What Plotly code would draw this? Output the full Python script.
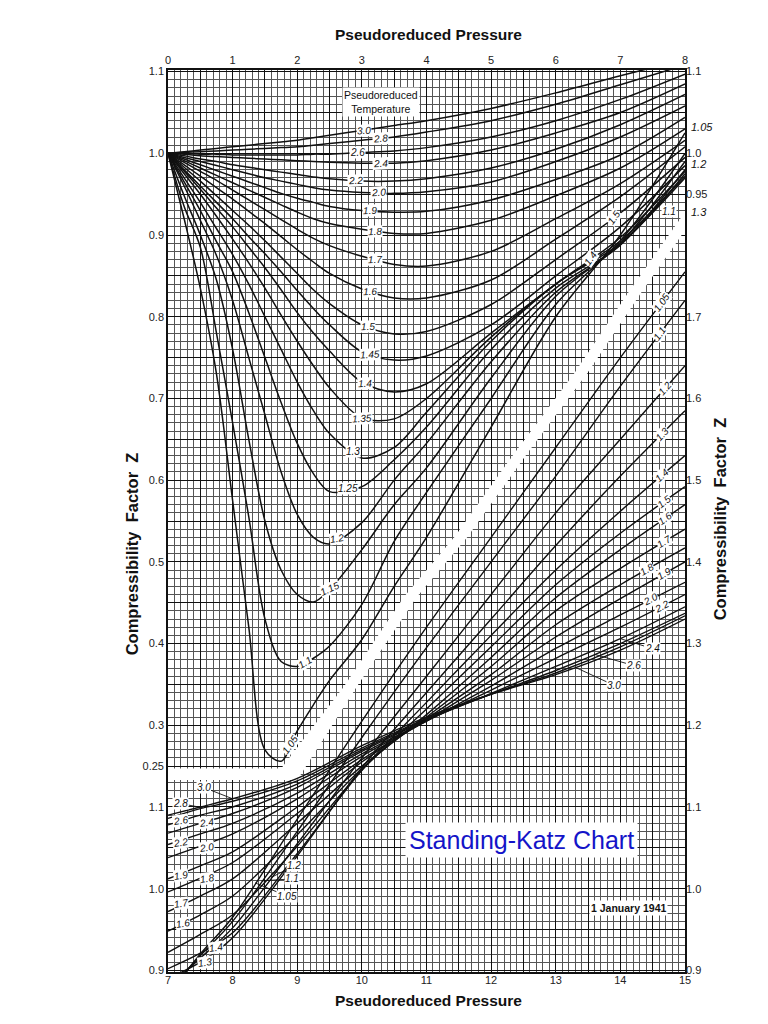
import numpy as np
import plotly.graph_objects as go

# Upper chart: pseudoreduced pressure 0-8, Z on the left scale 0.25-1.1
pr_upper = [0, 0.25, 0.5, 0.75, 1.0, 1.25, 1.5, 1.75, 2.0, 2.25, 2.5, 3.0, 3.5, 4.0, 5.0, 6.0, 7.0, 8.0]

z_u_300 = [1.0, 1.002, 1.004, 1.006, 1.008, 1.010, 1.012, 1.014, 1.016, 1.019, 1.022, 1.028, 1.034, 1.040, 1.055, 1.074, 1.095, 1.115]
z_u_280 = [1.0, 1.001, 1.002, 1.003, 1.004, 1.005, 1.006, 1.007, 1.008, 1.010, 1.012, 1.016, 1.020, 1.026, 1.040, 1.060, 1.084, 1.108]
z_u_260 = [1.0, 1.0, 0.999, 0.999, 0.998, 0.998, 0.998, 0.998, 0.998, 0.999, 0.999, 1.001, 1.003, 1.007, 1.020, 1.040, 1.066, 1.097]
z_u_240 = [1.0, 0.999, 0.997, 0.996, 0.995, 0.994, 0.993, 0.992, 0.991, 0.990, 0.989, 0.988, 0.988, 0.991, 1.004, 1.025, 1.050, 1.085]
z_u_220 = [1.0, 0.997, 0.993, 0.990, 0.986, 0.983, 0.980, 0.977, 0.974, 0.971, 0.969, 0.966, 0.966, 0.969, 0.982, 1.005, 1.035, 1.072]
z_u_200 = [1.0, 0.995, 0.990, 0.985, 0.980, 0.975, 0.970, 0.966, 0.962, 0.958, 0.955, 0.952, 0.951, 0.953, 0.965, 0.990, 1.020, 1.058]
z_u_190 = [1.0, 0.993, 0.986, 0.979, 0.972, 0.965, 0.958, 0.951, 0.945, 0.940, 0.935, 0.930, 0.928, 0.929, 0.943, 0.968, 0.998, 1.044]
z_u_180 = [1.0, 0.991, 0.982, 0.973, 0.964, 0.955, 0.946, 0.937, 0.928, 0.920, 0.914, 0.907, 0.902, 0.902, 0.918, 0.948, 0.982, 1.030]
z_u_170 = [1.0, 0.989, 0.978, 0.967, 0.955, 0.943, 0.931, 0.919, 0.907, 0.896, 0.887, 0.874, 0.864, 0.862, 0.880, 0.920, 0.963, 1.016]
z_u_160 = [1.0, 0.986, 0.972, 0.958, 0.944, 0.929, 0.914, 0.898, 0.882, 0.867, 0.853, 0.834, 0.823, 0.823, 0.845, 0.895, 0.947, 1.008]
z_u_150 = [1.0, 0.983, 0.966, 0.948, 0.930, 0.912, 0.893, 0.873, 0.853, 0.833, 0.816, 0.790, 0.779, 0.782, 0.815, 0.870, 0.927, 0.995]
z_u_145 = [1.0, 0.980, 0.960, 0.940, 0.920, 0.898, 0.877, 0.855, 0.832, 0.810, 0.790, 0.757, 0.747, 0.752, 0.790, 0.850, 0.910, 0.985]
z_u_140 = [1.0, 0.978, 0.956, 0.933, 0.910, 0.885, 0.860, 0.833, 0.805, 0.780, 0.758, 0.720, 0.708, 0.718, 0.780, 0.840, 0.897, 0.978]
z_u_135 = [1.0, 0.975, 0.950, 0.923, 0.895, 0.866, 0.835, 0.802, 0.770, 0.740, 0.713, 0.676, 0.675, 0.700, 0.775, 0.840, 0.893, 0.972]
z_u_130 = [1.0, 0.970, 0.940, 0.908, 0.876, 0.840, 0.800, 0.760, 0.720, 0.685, 0.657, 0.627, 0.640, 0.683, 0.770, 0.840, 0.890, 0.970]
z_u_125 = [1.0, 0.965, 0.930, 0.892, 0.855, 0.805, 0.750, 0.695, 0.645, 0.608, 0.586, 0.592, 0.625, 0.665, 0.760, 0.835, 0.888, 0.975]
z_u_120 = [1.0, 0.960, 0.918, 0.875, 0.820, 0.750, 0.680, 0.610, 0.558, 0.530, 0.522, 0.548, 0.600, 0.645, 0.745, 0.830, 0.888, 0.980]
z_u_115 = [1.0, 0.948, 0.900, 0.845, 0.760, 0.650, 0.550, 0.490, 0.460, 0.451, 0.466, 0.515, 0.570, 0.615, 0.725, 0.825, 0.890, 0.990]
z_u_110 = [1.0, 0.935, 0.885, 0.780, 0.670, 0.555, 0.430, 0.378, 0.372, 0.382, 0.397, 0.448, 0.525, 0.585, 0.700, 0.815, 0.893, 1.000]
z_u_105 = [1.0, 0.920, 0.835, 0.730, 0.575, 0.420, 0.270, 0.256, 0.293, 0.325, 0.355, 0.405, 0.470, 0.530, 0.665, 0.800, 0.900, 1.025]

# where each upper curve carries its Tpr label (pressure, text angle)
upper_label_pr = [3.04, 3.29, 2.93, 3.29, 2.9, 3.25, 3.13, 3.21, 3.21, 3.13, 3.1, 3.13, 3.05, 3.0, 2.87, 2.79, 2.62, 2.51, 2.12, 1.89]
upper_label_angle = [-4, -4, 0, -3, -3, -3, -2, -2, -2, -2, -2, -3, -3, -3, 0, 0, -8, -25, -30, -55]

# Lower chart: pseudoreduced pressure 7-15, Z on the right scale 0.9-1.7
pr_lower = [7, 7.5, 8, 9, 10, 11, 12, 13, 14, 15]

z_l_300 = [1.090, 1.100, 1.110, 1.135, 1.175, 1.210, 1.238, 1.262, 1.292, 1.330]
z_l_280 = [1.086, 1.098, 1.107, 1.132, 1.172, 1.208, 1.238, 1.264, 1.296, 1.334]
z_l_260 = [1.078, 1.090, 1.100, 1.128, 1.170, 1.207, 1.238, 1.267, 1.300, 1.337]
z_l_240 = [1.068, 1.080, 1.092, 1.124, 1.168, 1.206, 1.239, 1.272, 1.306, 1.345]
z_l_220 = [1.054, 1.067, 1.080, 1.117, 1.165, 1.205, 1.243, 1.282, 1.320, 1.360]
z_l_200 = [1.038, 1.052, 1.067, 1.110, 1.162, 1.205, 1.248, 1.294, 1.335, 1.375]
z_l_190 = [1.012, 1.028, 1.045, 1.100, 1.158, 1.206, 1.255, 1.308, 1.355, 1.400]
z_l_180 = [0.996, 1.013, 1.032, 1.092, 1.155, 1.208, 1.262, 1.323, 1.372, 1.417]
z_l_170 = [0.972, 0.991, 1.012, 1.080, 1.150, 1.210, 1.272, 1.340, 1.392, 1.440]
z_l_160 = [0.948, 0.968, 0.991, 1.066, 1.147, 1.213, 1.283, 1.356, 1.415, 1.470]
z_l_150 = [0.922, 0.944, 0.968, 1.052, 1.145, 1.220, 1.296, 1.372, 1.435, 1.492]
z_l_140 = [0.902, 0.921, 0.946, 1.043, 1.145, 1.228, 1.310, 1.390, 1.462, 1.530]
z_l_130 = [0.890, 0.910, 0.940, 1.040, 1.148, 1.240, 1.330, 1.420, 1.505, 1.585]
z_l_120 = [0.880, 0.915, 0.952, 1.055, 1.160, 1.260, 1.360, 1.460, 1.550, 1.640]
z_l_110 = [0.875, 0.918, 0.960, 1.070, 1.185, 1.295, 1.400, 1.505, 1.615, 1.720]
z_l_105 = [0.870, 0.920, 0.965, 1.085, 1.205, 1.320, 1.430, 1.540, 1.650, 1.755]

# white separator strip (upper scale coordinates)
band_pr = [0, 1.75, 2.72, 3.65, 4.43, 5.36, 6.29, 7.11, 7.9, 8.1, 8.1, 7.31, 6.49, 5.56, 4.63, 3.85, 2.92, 2.0, 0]
band_z = [0.247, 0.247, 0.347, 0.457, 0.530, 0.633, 0.731, 0.828, 0.917, 0.940, 0.917, 0.828, 0.731, 0.633, 0.530, 0.457, 0.347, 0.233, 0.233]

# axis tick labels
top_tick_vals = [0, 0.5, 1, 1.5, 2, 2.5, 3, 3.5, 4, 4.5, 5, 5.5, 6, 6.5, 7, 7.5, 8]
top_tick_text = ["0", "", "1", "", "2", "", "3", "", "4", "", "5", "", "6", "", "7", "", "8"]
bottom_tick_vals = [7, 8, 9, 10, 11, 12, 13, 14, 15]
left_tick_vals = [0.0, 0.05, 0.1, 0.15, 0.2, 0.25, 0.3, 0.35, 0.4, 0.45, 0.5, 0.55, 0.6,
                  0.65, 0.7, 0.75, 0.8, 0.85, 0.9, 0.95, 1.0, 1.05, 1.1]
left_tick_text = ["0.9", "", "1.0", "", "1.1", "0.25", "0.3", "", "0.4", "", "0.5", "", "0.6",
                  "", "0.7", "", "0.8", "", "0.9", "", "1.0", "", "1.1"]
right_tick_vals = [0.9, 1.0, 1.1, 1.2, 1.3, 1.4, 1.5, 1.6, 1.7, 1.85, 1.9, 2.0]
right_tick_text = ["0.9", "1.0", "1.1", "1.2", "1.3", "1.4", "1.5", "1.6", "1.7", "0.95", "1.0", "1.1"]

upper_curves = [
    ("3.0", z_u_300), ("2.8", z_u_280), ("2.6", z_u_260), ("2.4", z_u_240), ("2.2", z_u_220),
    ("2.0", z_u_200), ("1.9", z_u_190), ("1.8", z_u_180), ("1.7", z_u_170), ("1.6", z_u_160),
    ("1.5", z_u_150), ("1.45", z_u_145), ("1.4", z_u_140), ("1.35", z_u_135), ("1.3", z_u_130),
    ("1.25", z_u_125), ("1.2", z_u_120), ("1.15", z_u_115), ("1.1", z_u_110), ("1.05", z_u_105),
]
lower_curves = [
    ("3.0", z_l_300), ("2.8", z_l_280), ("2.6", z_l_260), ("2.4", z_l_240), ("2.2", z_l_220),
    ("2.0", z_l_200), ("1.9", z_l_190), ("1.8", z_l_180), ("1.7", z_l_170), ("1.6", z_l_160),
    ("1.5", z_l_150), ("1.4", z_l_140), ("1.3", z_l_130), ("1.2", z_l_120), ("1.1", z_l_110),
    ("1.05", z_l_105),
]

FONT = "Liberation Sans, Arial, sans-serif"

fig = go.Figure()

fig.add_trace(go.Scatter(x=band_pr, y=band_z, mode="lines", fill="toself",
                         fillcolor="white", line=dict(width=0), hoverinfo="skip"))

for name, z in upper_curves:
    fig.add_trace(go.Scatter(x=pr_upper, y=z, mode="lines", name=name,
                             line=dict(color="#111", width=1.5, shape="spline", smoothing=0.9)))

for name, z in lower_curves:
    fig.add_trace(go.Scatter(x=pr_lower, y=z, mode="lines", name=name, xaxis="x2", yaxis="y2",
                             line=dict(color="#111", width=1.4, shape="spline", smoothing=0.9)))

label_font = dict(family=FONT, size=10, color="#111", style="italic")
annotations = []

# upper curve labels sit on their curves
for (name, z), p, ang in zip(upper_curves, upper_label_pr, upper_label_angle):
    annotations.append(dict(x=p, y=float(np.interp(p, pr_upper, z)), xref="x", yref="y",
                            text=name, showarrow=False, font=label_font, bgcolor="white",
                            borderpad=0, textangle=ang))
for name, z, p in [("1.5", z_u_150, 6.9), ("1.4", z_u_140, 6.54)]:
    annotations.append(dict(x=p, y=float(np.interp(p, pr_upper, z)), xref="x", yref="y",
                            text=name, showarrow=False, font=label_font, bgcolor="white",
                            borderpad=0, textangle=-55))

# right-hand labels of the lower family
right_labels = {"1.05": (14.64, -55), "1.1": (14.61, -55), "1.2": (14.69, -50), "1.3": (14.64, -47),
                "1.4": (14.64, -42), "1.5": (14.68, -38), "1.6": (14.69, -35), "1.7": (14.68, -32),
                "1.8": (14.41, -30), "1.9": (14.68, -30), "2.0": (14.46, -28), "2.2": (14.64, -27)}
for name, z in lower_curves:
    if name in right_labels:
        p, ang = right_labels[name]
        annotations.append(dict(x=p, y=float(np.interp(p, pr_lower, z)), xref="x2", yref="y2",
                                text=name, showarrow=False, font=label_font, bgcolor="white",
                                borderpad=0, textangle=ang))

# left-hand labels of the lower family
left_labels = [("2.6", 7.2, 1.084), ("2.4", 7.6, 1.081), ("2.2", 7.2, 1.057), ("2.0", 7.6, 1.05),
               ("1.9", 7.2, 1.016), ("1.8", 7.6, 1.013), ("1.7", 7.2, 0.982), ("1.6", 7.23, 0.957),
               ("1.4", 7.75, 0.928), ("1.3", 7.58, 0.91)]
for name, p, zz in left_labels:
    annotations.append(dict(x=p, y=zz, xref="x2", yref="y2", text=name, showarrow=False,
                            font=label_font, bgcolor="white", borderpad=0, textangle=-8))

# labels with leader lines: (text, text pr, text Z, curve, pressure the leader points to)
leader_labels = [("3.0", 7.55, 1.124, z_l_300, 8.0), ("2.8", 7.2, 1.104, z_l_280, 7.55),
                 ("1.2", 8.95, 1.028, z_l_120, 8.6), ("1.1", 8.92, 1.012, z_l_110, 8.45),
                 ("1.05", 8.84, 0.991, z_l_105, 8.35),
                 ("2.4", 14.49, 1.294, z_l_240, 14.0), ("2.6", 14.21, 1.273, z_l_260, 13.6),
                 ("3.0", 13.9, 1.249, z_l_300, 13.3)]
for name, tp, tz, z, p in leader_labels:
    annotations.append(dict(x=p, y=float(np.interp(p, pr_lower, z)), xref="x2", yref="y2",
                            ax=tp, ay=tz, axref="x2", ayref="y2", text=name, showarrow=True,
                            arrowhead=0, arrowwidth=0.9, arrowcolor="#111", standoff=0,
                            font=label_font, bgcolor="white", borderpad=0))

# curve-end labels beyond the right edge of the upper chart
for name, yp in [("1.05", 0.937), ("1.2", 0.896), ("1.3", 0.843)]:
    annotations.append(dict(x=1.008, y=yp, xref="paper", yref="paper", text=name, showarrow=False,
                            xanchor="left", yanchor="middle",
                            font=dict(family=FONT, size=11, color="#111", style="italic")))
annotations.append(dict(x=7.75, y=0.929, xref="x", yref="y", text="1.1", showarrow=False,
                        font=label_font, bgcolor="white", borderpad=0))

annotations.append(dict(x=3.29, y=1.063, xref="x", yref="y", text="Pseudoreduced<br>Temperature",
                        showarrow=False, font=dict(family=FONT, size=10.5, color="#111"),
                        bgcolor="white", borderpad=1))

title_font = dict(family=FONT, size=15.5, color="#111")
annotations += [
    dict(x=0.503, y=1.039, xref="paper", yref="paper", text="<b>Pseudoreduced Pressure</b>",
         showarrow=False, xanchor="center", yanchor="middle", font=title_font),
    dict(x=0.503, y=-0.032, xref="paper", yref="paper", text="<b>Pseudoreduced Pressure</b>",
         showarrow=False, xanchor="center", yanchor="middle", font=title_font),
    dict(x=-0.068, y=0.464, xref="paper", yref="paper", text="<b>Compressibility  Factor  Z</b>",
         showarrow=False, xanchor="center", yanchor="middle", textangle=-90,
         font=dict(family=FONT, size=16.5, color="#111")),
    dict(x=1.068, y=0.502, xref="paper", yref="paper", text="<b>Compressibility  Factor  Z</b>",
         showarrow=False, xanchor="center", yanchor="middle", textangle=-90,
         font=dict(family=FONT, size=16.5, color="#111")),
    dict(x=0.683, y=0.146, xref="paper", yref="paper", text="Standing-Katz Chart",
         showarrow=False, xanchor="center", yanchor="middle",
         font=dict(family=FONT, size=25, color="#1414c8"), bgcolor="white", borderpad=3),
    dict(x=0.89, y=0.071, xref="paper", yref="paper", text="<b>1 January 1941</b>",
         showarrow=False, xanchor="center", yanchor="middle",
         font=dict(family=FONT, size=10.5, color="#111"), bgcolor="white", borderpad=1),
]

tick_font = dict(family=FONT, size=11, color="#222")

# the page adds an 8px body margin, so the figure is drawn 8px smaller
fig.update_layout(
    width=760, height=1016,
    margin=dict(l=160, r=83, t=62, b=52),
    paper_bgcolor="white", plot_bgcolor="white",
    showlegend=False,
    font=dict(family=FONT, color="#111"),
    annotations=annotations,
    xaxis=dict(range=[0, 8], side="top", tickmode="array", tickvals=top_tick_vals,
               ticktext=top_tick_text, tickfont=tick_font, ticks="",
               showgrid=True, gridcolor="#111", gridwidth=1.1, zeroline=False,
               minor=dict(tickmode="linear", tick0=0, dtick=0.1, showgrid=True,
                          gridcolor="#555", gridwidth=0.6),
               showline=True, mirror=True, linecolor="#111", linewidth=1.6),
    xaxis2=dict(range=[7, 15], overlaying="x", side="bottom", anchor="y", tickmode="array",
                tickvals=bottom_tick_vals, tickfont=tick_font, ticks="", showgrid=False,
                zeroline=False),
    yaxis=dict(range=[-0.002, 1.102], tickmode="array", tickvals=left_tick_vals,
               ticktext=left_tick_text, tickfont=tick_font, ticks="",
               showgrid=True, gridcolor="#111", gridwidth=0.9, zeroline=False,
               minor=dict(tickmode="linear", tick0=0, dtick=0.01, showgrid=True,
                          gridcolor="#555", gridwidth=0.6),
               showline=True, mirror=True, linecolor="#111", linewidth=1.6),
    yaxis2=dict(range=[0.898, 2.002], overlaying="y", side="right", anchor="x",
                tickmode="array", tickvals=right_tick_vals, ticktext=right_tick_text,
                tickfont=tick_font, ticks="", showgrid=False, zeroline=False),
)

fig.write_html("out.html")
